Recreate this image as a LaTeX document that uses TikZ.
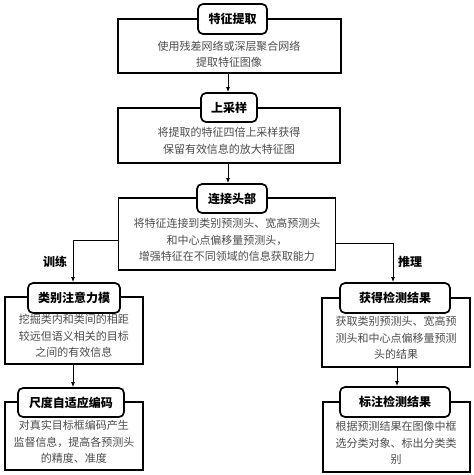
\documentclass[tikz,border=0pt]{standalone}
\usepackage{fontspec}
\setmainfont{Noto Sans CJK SC}
\usetikzlibrary{arrows.meta}
\tikzset{
  bigbox/.style={draw=black, line width=1.7pt, fill=white, inner sep=0pt},
  titlebox/.style={draw=black, line width=1.7pt, fill=white, rounded corners=5pt, inner sep=0pt, font=\fontsize{12}{14}\selectfont\bfseries},
  bodytext/.style={align=center, text=black!70, font=\fontsize{11}{16.5}\selectfont, inner sep=0pt},
  lbl/.style={font=\fontsize{12}{14}\selectfont\bfseries, inner sep=0pt},
  conn/.style={line width=1pt, -{Latex[length=5pt,width=4pt]}},
}
\begin{document}
\begin{tikzpicture}[x=1pt,y=-1pt]
\useasboundingbox (0,0) rectangle (474,475);
% box 1
\node[bigbox, minimum width=223pt, minimum height=54pt] (b1) at (229.5,46) {};
\node[titlebox, minimum width=69pt, minimum height=30pt] (t1) at (232.5,19) {特征提取};
\node[bodytext] (x1) at (229,54) {使用残差网络或深层聚合网络\\提取特征图像};
% box 2
\node[bigbox, minimum width=222pt, minimum height=55pt] (b2) at (229,135.5) {};
\node[titlebox, minimum width=56pt, minimum height=29pt] (t2) at (229,107.5) {上采样};
\node[bodytext] (x2) at (229,141) {将提取的特征四倍上采样获得\\保留有效信息的放大特征图};
% box 3
\node[bigbox, minimum width=217pt, minimum height=72pt] (b3) at (227,234) {};
\node[titlebox, minimum width=70pt, minimum height=29pt] (t3) at (232,198.5) {连接头部};
\node[bodytext] (x3) at (227,240) {将特征连接到类别预测头、宽高预测头\\和中心点偏移量预测头，\\增强特征在不同领域的信息获取能力};
% left column
\node[bigbox, minimum width=138pt, minimum height=67pt] (b4) at (74,330.5) {};
\node[titlebox, minimum width=92pt, minimum height=30pt] (t4) at (74,298) {类别注意力模};
\node[bodytext] (x4) at (74,336) {挖掘类内和类间的相距\\较远但语义相关的目标\\之间的有效信息};
\node[bigbox, minimum width=138pt, minimum height=68pt] (b5) at (74,436) {};
\node[titlebox, minimum width=106pt, minimum height=29pt] (t5) at (71,402.5) {尺度自适应编码};
\node[bodytext] (x5) at (74,442) {对真实目标框编码产生\\监督信息，提高各预测头\\的精度、准度};
% right column
\node[bigbox, minimum width=148pt, minimum height=69pt] (b6) at (396,332.5) {};
\node[titlebox, minimum width=110pt, minimum height=30pt] (t6) at (395,298) {获得检测结果};
\node[bodytext] (x6) at (396,338) {获取类别预测头、宽高预\\测头和中心点偏移量预测\\头的结果};
\node[bigbox, minimum width=147pt, minimum height=70pt] (b7) at (396.5,437) {};
\node[titlebox, minimum width=110pt, minimum height=30pt] (t7) at (395,402) {标注检测结果};
\node[bodytext] (x7) at (396,443) {根据预测结果在图像中框\\选分类对象、标出分类类\\别};
% connectors
\draw[conn] (b1.south -| 228,0) -- (t2.north -| 228,0);
\draw[conn] (b2.south -| 228,0) -- (t3.north -| 228,0);
\coordinate (lc) at (73,240);
\coordinate (rc) at (393,243.5);
\draw[conn] (b3.west |- lc) -- (lc) -- (t4.north -| lc);
\draw[conn] (b3.east |- rc) -- (rc) -- (t6.north -| rc);
\draw[conn] (b4.south -| 73,0) -- (t5.north -| 73,0);
\draw[conn] (b6.south -| 397,0) -- (t7.north -| 397,0);
\node[lbl] (l1) at (55,262) {训练};
\node[lbl] (l2) at (410,262) {推理};
\end{tikzpicture}
\end{document}
